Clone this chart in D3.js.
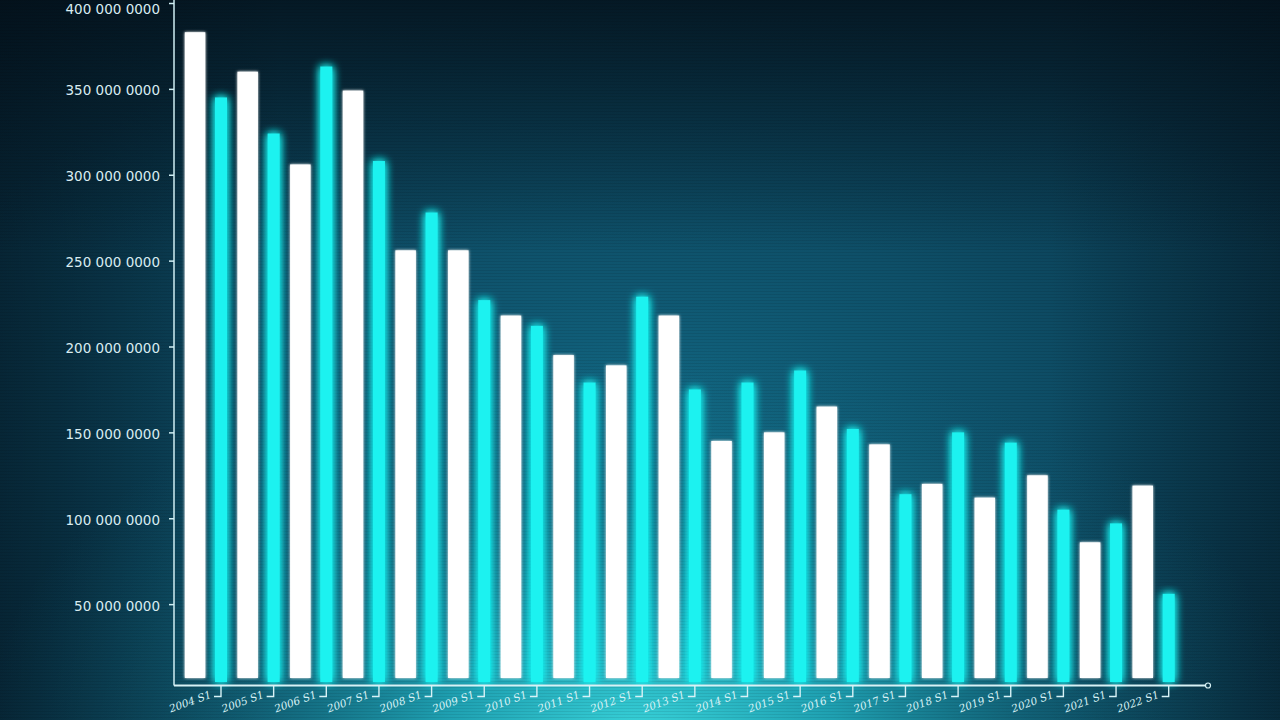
<!DOCTYPE html>
<html><head><meta charset="utf-8">
<script src="https://cdn.jsdelivr.net/npm/d3@7"></script>
<style>html,body{margin:0;padding:0;background:#06141f;overflow:hidden}svg{display:block}</style>
</head><body>
<svg id="c" width="1280" height="720"></svg>
<script>
const categories = ["2004 S1","2005 S1","2006 S1","2007 S1","2008 S1","2009 S1","2010 S1","2011 S1","2012 S1","2013 S1","2014 S1","2015 S1","2016 S1","2017 S1","2018 S1","2019 S1","2020 S1","2021 S1","2022 S1"];
const seriesWhite = [383,360,306,349,256,256,218,195,189,218,145,150,165,143,120,112,125,86,119];
const seriesCyan  = [345,324,363,308,278,227,212,179,229,175,179,186,152,114,150,144,105,97,56];
const yTickValues = [50,100,150,200,250,300,350,400];
const yTickLabels = ["50 000 0000","100 000 0000","150 000 0000","200 000 0000","250 000 0000","300 000 0000","350 000 0000","400 000 0000"];
</script>
<script>
const svg = d3.select("#c");
const W = 1280, H = 720;
const defs = svg.append("defs");

function grad(id, type, attrs, stops){
  const g = defs.append(type).attr("id", id);
  Object.entries(attrs).forEach(([k,v]) => g.attr(k,v));
  stops.forEach(s => g.append("stop").attr("offset", s[0]).attr("stop-color", s[1]).attr("stop-opacity", s[2]));
}
grad("mid","radialGradient",{cx:0.5,cy:0.6,r:0.6},[[0,"#126a86",1],[0.5,"#0f5670",0.75],[1,"#0c4a62",0]]);
grad("topD","linearGradient",{x1:0,y1:0,x2:0,y2:1},[[0,"#020a12",0.7],[0.35,"#020a12",0.0],[1,"#020a12",0]]);
grad("leftD","linearGradient",{x1:0,y1:0,x2:1,y2:0},[[0,"#020c15",0.5],[0.22,"#020c15",0.0],[0.82,"#020c15",0],[1,"#020c15",0.4]]);
grad("glow","radialGradient",{cx:0.5,cy:0.5,r:0.5},[[0,"#3ad6dc",1],[0.3,"#22b0c0",0.85],[0.6,"#178498",0.45],[1,"#106078",0]]);

svg.append("rect").attr("width",W).attr("height",H).attr("fill","#0b3c52");
svg.append("rect").attr("width",W).attr("height",H).attr("fill","url(#mid)");
svg.append("rect").attr("width",W).attr("height",H).attr("fill","url(#leftD)");
svg.append("rect").attr("width",W).attr("height",H).attr("fill","url(#topD)");
svg.append("ellipse").attr("cx",640).attr("cy",740).attr("rx",660).attr("ry",400).attr("fill","url(#glow)");

// scanlines
const pat = defs.append("pattern").attr("id","scan").attr("width",4).attr("height",3).attr("patternUnits","userSpaceOnUse");
pat.append("rect").attr("width",4).attr("height",1).attr("fill","#000").attr("opacity",0.08);
svg.append("rect").attr("width",W).attr("height",H).attr("fill","url(#scan)");

// filters
const f = defs.append("filter").attr("id","cglow").attr("x","-150%").attr("y","-10%").attr("width","400%").attr("height","120%");
f.append("feGaussianBlur").attr("in","SourceGraphic").attr("stdDeviation",5).attr("result","b");
const fm = f.append("feMerge");
fm.append("feMergeNode").attr("in","b");
fm.append("feMergeNode").attr("in","b");
fm.append("feMergeNode").attr("in","SourceGraphic");
const f2 = defs.append("filter").attr("id","wglow").attr("x","-50%").attr("y","-5%").attr("width","200%").attr("height","110%");
f2.append("feGaussianBlur").attr("in","SourceGraphic").attr("stdDeviation",1.5).attr("result","b");
const fm2 = f2.append("feMerge");
fm2.append("feMergeNode").attr("in","b");
fm2.append("feMergeNode").attr("in","SourceGraphic");

// scales
const y = d3.scaleLinear().domain([0,400]).range([690,3]);
const x = d3.scaleBand().domain(categories).range([181.8, 181.8 + 52.65*categories.length]).paddingInner(0).paddingOuter(0);
const whiteOff = 3, whiteW = 20.5, cyanOff = 33.2, cyanW = 12;
const base = 678, baseC = 682, axisY = 685.5, axisX = 174;

// bars
svg.append("g").selectAll("rect").data(categories).join("rect")
  .attr("x", d => x(d) + whiteOff).attr("width", whiteW)
  .attr("y", (d,i) => y(seriesWhite[i])).attr("height", (d,i) => base - y(seriesWhite[i]))
  .attr("fill","#ffffff").attr("filter","url(#wglow)");
svg.append("g").selectAll("rect").data(categories).join("rect")
  .attr("x", d => x(d) + cyanOff).attr("width", cyanW)
  .attr("y", (d,i) => y(seriesCyan[i])).attr("height", (d,i) => baseC - y(seriesCyan[i]))
  .attr("fill","#1df2f0").attr("filter","url(#cglow)");

// y axis
const ya = svg.append("g").attr("transform",`translate(${axisX},0)`)
  .call(d3.axisLeft(y).tickValues(yTickValues).tickSize(5).tickFormat((d,i)=>yTickLabels[i]));
ya.select(".domain").remove();
ya.selectAll(".tick line").attr("stroke","#cfeef3").attr("stroke-width",1.5);
ya.selectAll(".tick text").attr("fill","#d8ecf1").attr("font-family","DejaVu Sans, sans-serif").attr("font-size",13.5).attr("x",-14)
  .attr("dy", d => d === 400 ? "0.75em" : "0.45em");
svg.append("line").attr("x1",axisX).attr("x2",axisX).attr("y1",0).attr("y2",axisY)
  .attr("stroke","#cfeef3").attr("stroke-width",1.5);

// x axis
svg.append("line").attr("x1",axisX).attr("x2",1206).attr("y1",axisY).attr("y2",axisY)
  .attr("stroke","#d8f2f6").attr("stroke-width",2);
svg.append("circle").attr("cx",1208).attr("cy",axisY).attr("r",2.5).attr("fill","none").attr("stroke","#d8f2f6").attr("stroke-width",1.2);
const xt = svg.append("g").selectAll("g").data(categories).join("g")
  .attr("transform", d => `translate(${x(d)+cyanOff+cyanW/2},${axisY})`);
xt.append("path").attr("d","M0,0V11H-7").attr("fill","none").attr("stroke","#d8f2f6").attr("stroke-width",1.4);
xt.append("text").text(d=>d).attr("text-anchor","end")
  .attr("transform","translate(-9,12) rotate(-20)")
  .attr("fill","#d8f2f6").attr("font-family","DejaVu Serif, serif").attr("font-style","italic").attr("font-size",10.5);
</script>
</body></html>
